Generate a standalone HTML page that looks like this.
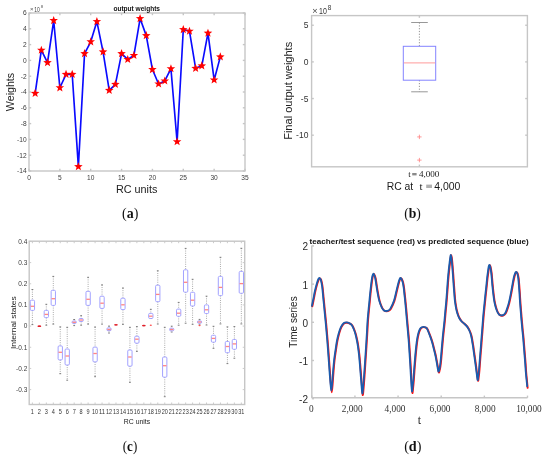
<!DOCTYPE html>
<html><head><meta charset="utf-8"><title>Figure</title>
<style>html,body{margin:0;padding:0;background:#fff;} svg{display:block;}</style></head>
<body><svg width="550" height="459" viewBox="0 0 550 459">
<rect width="550" height="459" fill="#fff"/>
<rect x="29.0" y="13.0" width="216.0" height="158.0" fill="none" stroke="#c6c6c6" stroke-width="1.4"/>
<line x1="29.00" y1="171.00" x2="29.00" y2="168.80" stroke="#c6c6c6" stroke-width="1.4"/>
<line x1="29.00" y1="13.00" x2="29.00" y2="15.20" stroke="#c6c6c6" stroke-width="1.4"/>
<text x="29.00" y="179.80" font-size="6.6" text-anchor="middle" font-family="'Liberation Sans', Arial, sans-serif" fill="#3a3a3a">0</text>
<line x1="59.86" y1="171.00" x2="59.86" y2="168.80" stroke="#c6c6c6" stroke-width="1.4"/>
<line x1="59.86" y1="13.00" x2="59.86" y2="15.20" stroke="#c6c6c6" stroke-width="1.4"/>
<text x="59.86" y="179.80" font-size="6.6" text-anchor="middle" font-family="'Liberation Sans', Arial, sans-serif" fill="#3a3a3a">5</text>
<line x1="90.71" y1="171.00" x2="90.71" y2="168.80" stroke="#c6c6c6" stroke-width="1.4"/>
<line x1="90.71" y1="13.00" x2="90.71" y2="15.20" stroke="#c6c6c6" stroke-width="1.4"/>
<text x="90.71" y="179.80" font-size="6.6" text-anchor="middle" font-family="'Liberation Sans', Arial, sans-serif" fill="#3a3a3a">10</text>
<line x1="121.57" y1="171.00" x2="121.57" y2="168.80" stroke="#c6c6c6" stroke-width="1.4"/>
<line x1="121.57" y1="13.00" x2="121.57" y2="15.20" stroke="#c6c6c6" stroke-width="1.4"/>
<text x="121.57" y="179.80" font-size="6.6" text-anchor="middle" font-family="'Liberation Sans', Arial, sans-serif" fill="#3a3a3a">15</text>
<line x1="152.43" y1="171.00" x2="152.43" y2="168.80" stroke="#c6c6c6" stroke-width="1.4"/>
<line x1="152.43" y1="13.00" x2="152.43" y2="15.20" stroke="#c6c6c6" stroke-width="1.4"/>
<text x="152.43" y="179.80" font-size="6.6" text-anchor="middle" font-family="'Liberation Sans', Arial, sans-serif" fill="#3a3a3a">20</text>
<line x1="183.29" y1="171.00" x2="183.29" y2="168.80" stroke="#c6c6c6" stroke-width="1.4"/>
<line x1="183.29" y1="13.00" x2="183.29" y2="15.20" stroke="#c6c6c6" stroke-width="1.4"/>
<text x="183.29" y="179.80" font-size="6.6" text-anchor="middle" font-family="'Liberation Sans', Arial, sans-serif" fill="#3a3a3a">25</text>
<line x1="214.14" y1="171.00" x2="214.14" y2="168.80" stroke="#c6c6c6" stroke-width="1.4"/>
<line x1="214.14" y1="13.00" x2="214.14" y2="15.20" stroke="#c6c6c6" stroke-width="1.4"/>
<text x="214.14" y="179.80" font-size="6.6" text-anchor="middle" font-family="'Liberation Sans', Arial, sans-serif" fill="#3a3a3a">30</text>
<line x1="245.00" y1="171.00" x2="245.00" y2="168.80" stroke="#c6c6c6" stroke-width="1.4"/>
<line x1="245.00" y1="13.00" x2="245.00" y2="15.20" stroke="#c6c6c6" stroke-width="1.4"/>
<text x="245.00" y="179.80" font-size="6.6" text-anchor="middle" font-family="'Liberation Sans', Arial, sans-serif" fill="#3a3a3a">35</text>
<line x1="29.00" y1="171.00" x2="31.20" y2="171.00" stroke="#c6c6c6" stroke-width="1.4"/>
<line x1="245.00" y1="171.00" x2="242.80" y2="171.00" stroke="#c6c6c6" stroke-width="1.4"/>
<text x="26.60" y="173.30" font-size="6.6" text-anchor="end" font-family="'Liberation Sans', Arial, sans-serif" fill="#3a3a3a">-14</text>
<line x1="29.00" y1="155.20" x2="31.20" y2="155.20" stroke="#c6c6c6" stroke-width="1.4"/>
<line x1="245.00" y1="155.20" x2="242.80" y2="155.20" stroke="#c6c6c6" stroke-width="1.4"/>
<text x="26.60" y="157.50" font-size="6.6" text-anchor="end" font-family="'Liberation Sans', Arial, sans-serif" fill="#3a3a3a">-12</text>
<line x1="29.00" y1="139.40" x2="31.20" y2="139.40" stroke="#c6c6c6" stroke-width="1.4"/>
<line x1="245.00" y1="139.40" x2="242.80" y2="139.40" stroke="#c6c6c6" stroke-width="1.4"/>
<text x="26.60" y="141.70" font-size="6.6" text-anchor="end" font-family="'Liberation Sans', Arial, sans-serif" fill="#3a3a3a">-10</text>
<line x1="29.00" y1="123.60" x2="31.20" y2="123.60" stroke="#c6c6c6" stroke-width="1.4"/>
<line x1="245.00" y1="123.60" x2="242.80" y2="123.60" stroke="#c6c6c6" stroke-width="1.4"/>
<text x="26.60" y="125.90" font-size="6.6" text-anchor="end" font-family="'Liberation Sans', Arial, sans-serif" fill="#3a3a3a">-8</text>
<line x1="29.00" y1="107.80" x2="31.20" y2="107.80" stroke="#c6c6c6" stroke-width="1.4"/>
<line x1="245.00" y1="107.80" x2="242.80" y2="107.80" stroke="#c6c6c6" stroke-width="1.4"/>
<text x="26.60" y="110.10" font-size="6.6" text-anchor="end" font-family="'Liberation Sans', Arial, sans-serif" fill="#3a3a3a">-6</text>
<line x1="29.00" y1="92.00" x2="31.20" y2="92.00" stroke="#c6c6c6" stroke-width="1.4"/>
<line x1="245.00" y1="92.00" x2="242.80" y2="92.00" stroke="#c6c6c6" stroke-width="1.4"/>
<text x="26.60" y="94.30" font-size="6.6" text-anchor="end" font-family="'Liberation Sans', Arial, sans-serif" fill="#3a3a3a">-4</text>
<line x1="29.00" y1="76.20" x2="31.20" y2="76.20" stroke="#c6c6c6" stroke-width="1.4"/>
<line x1="245.00" y1="76.20" x2="242.80" y2="76.20" stroke="#c6c6c6" stroke-width="1.4"/>
<text x="26.60" y="78.50" font-size="6.6" text-anchor="end" font-family="'Liberation Sans', Arial, sans-serif" fill="#3a3a3a">-2</text>
<line x1="29.00" y1="60.40" x2="31.20" y2="60.40" stroke="#c6c6c6" stroke-width="1.4"/>
<line x1="245.00" y1="60.40" x2="242.80" y2="60.40" stroke="#c6c6c6" stroke-width="1.4"/>
<text x="26.60" y="62.70" font-size="6.6" text-anchor="end" font-family="'Liberation Sans', Arial, sans-serif" fill="#3a3a3a">0</text>
<line x1="29.00" y1="44.60" x2="31.20" y2="44.60" stroke="#c6c6c6" stroke-width="1.4"/>
<line x1="245.00" y1="44.60" x2="242.80" y2="44.60" stroke="#c6c6c6" stroke-width="1.4"/>
<text x="26.60" y="46.90" font-size="6.6" text-anchor="end" font-family="'Liberation Sans', Arial, sans-serif" fill="#3a3a3a">2</text>
<line x1="29.00" y1="28.80" x2="31.20" y2="28.80" stroke="#c6c6c6" stroke-width="1.4"/>
<line x1="245.00" y1="28.80" x2="242.80" y2="28.80" stroke="#c6c6c6" stroke-width="1.4"/>
<text x="26.60" y="31.10" font-size="6.6" text-anchor="end" font-family="'Liberation Sans', Arial, sans-serif" fill="#3a3a3a">4</text>
<line x1="29.00" y1="13.00" x2="31.20" y2="13.00" stroke="#c6c6c6" stroke-width="1.4"/>
<line x1="245.00" y1="13.00" x2="242.80" y2="13.00" stroke="#c6c6c6" stroke-width="1.4"/>
<text x="26.60" y="15.30" font-size="6.6" text-anchor="end" font-family="'Liberation Sans', Arial, sans-serif" fill="#3a3a3a">6</text>
<text x="30.00" y="11.40" font-size="6.0" text-anchor="start" font-family="'Liberation Sans', Arial, sans-serif" fill="#555">×</text>
<text x="34.20" y="11.60" font-size="7.0" text-anchor="start" font-family="'Liberation Sans', Arial, sans-serif" fill="#444" textLength="5.6" lengthAdjust="spacingAndGlyphs">10</text>
<text x="40.70" y="8.20" font-size="4.4" text-anchor="start" font-family="'Liberation Sans', Arial, sans-serif" fill="#555">8</text>
<text x="136.70" y="11.00" font-size="6.5" text-anchor="middle" font-family="'Liberation Sans', Arial, sans-serif" fill="#111" font-weight="bold" textLength="46.6" lengthAdjust="spacingAndGlyphs">output weights</text>
<text x="136.70" y="193.40" font-size="11.2" text-anchor="middle" font-family="'Liberation Sans', Arial, sans-serif" fill="#222" textLength="41.5" lengthAdjust="spacingAndGlyphs">RC units</text>
<text x="14.00" y="92.00" font-size="11" text-anchor="middle" font-family="'Liberation Sans', Arial, sans-serif" fill="#222" textLength="38.3" lengthAdjust="spacingAndGlyphs" transform="rotate(-90 14.00 92.00)">Weights</text>
<text x="130.20" y="217.80" font-size="14" text-anchor="middle" font-family="'Liberation Serif', 'Times New Roman', serif" fill="#111" textLength="16.3" lengthAdjust="spacingAndGlyphs">(<tspan font-weight="bold">a</tspan>)</text>
<path d="M35.17,93.35 L41.34,50.21 L47.51,62.62 L53.69,20.51 L59.86,87.74 L66.03,74.31 L72.20,74.31 L78.37,166.66 L84.54,53.61 L90.71,41.76 L96.89,21.54 L103.06,51.79 L109.23,90.35 L115.40,84.34 L121.57,53.61 L127.74,59.46 L133.91,55.43 L140.09,18.54 L146.26,35.60 L152.43,69.49 L158.60,83.95 L164.77,80.95 L170.94,68.70 L177.11,141.70 L183.29,29.52 L189.46,31.17 L195.63,68.31 L201.80,65.86 L207.97,33.15 L214.14,79.92 L220.31,56.85" fill="none" stroke="#0a0aff" stroke-width="1.65" stroke-linejoin="round"/>
<polygon points="35.17,88.85 36.29,91.81 39.45,91.96 36.98,93.94 37.82,96.99 35.17,95.25 32.53,96.99 33.36,93.94 30.89,91.96 34.05,91.81" fill="#ff0000"/>
<polygon points="41.34,45.71 42.46,48.68 45.62,48.82 43.15,50.80 43.99,53.85 41.34,52.11 38.70,53.85 39.54,50.80 37.06,48.82 40.23,48.68" fill="#ff0000"/>
<polygon points="47.51,58.12 48.63,61.08 51.79,61.23 49.32,63.20 50.16,66.26 47.51,64.52 44.87,66.26 45.71,63.20 43.23,61.23 46.40,61.08" fill="#ff0000"/>
<polygon points="53.69,16.01 54.80,18.97 57.97,19.12 55.49,21.10 56.33,24.15 53.69,22.41 51.04,24.15 51.88,21.10 49.41,19.12 52.57,18.97" fill="#ff0000"/>
<polygon points="59.86,83.24 60.97,86.20 64.14,86.35 61.66,88.33 62.50,91.38 59.86,89.64 57.21,91.38 58.05,88.33 55.58,86.35 58.74,86.20" fill="#ff0000"/>
<polygon points="66.03,69.81 67.15,72.77 70.31,72.92 67.84,74.90 68.67,77.95 66.03,76.21 63.38,77.95 64.22,74.90 61.75,72.92 64.91,72.77" fill="#ff0000"/>
<polygon points="72.20,69.81 73.32,72.77 76.48,72.92 74.01,74.90 74.85,77.95 72.20,76.21 69.55,77.95 70.39,74.90 67.92,72.92 71.08,72.77" fill="#ff0000"/>
<polygon points="78.37,162.16 79.49,165.12 82.65,165.27 80.18,167.25 81.02,170.30 78.37,168.56 75.73,170.30 76.56,167.25 74.09,165.27 77.25,165.12" fill="#ff0000"/>
<polygon points="84.54,49.11 85.66,52.07 88.82,52.22 86.35,54.20 87.19,57.25 84.54,55.51 81.90,57.25 82.74,54.20 80.26,52.22 83.43,52.07" fill="#ff0000"/>
<polygon points="90.71,37.26 91.83,40.22 94.99,40.37 92.52,42.35 93.36,45.40 90.71,43.66 88.07,45.40 88.91,42.35 86.43,40.37 89.60,40.22" fill="#ff0000"/>
<polygon points="96.89,17.04 98.00,20.00 101.17,20.15 98.69,22.12 99.53,25.18 96.89,23.44 94.24,25.18 95.08,22.12 92.61,20.15 95.77,20.00" fill="#ff0000"/>
<polygon points="103.06,47.29 104.17,50.26 107.34,50.40 104.86,52.38 105.70,55.43 103.06,53.69 100.41,55.43 101.25,52.38 98.78,50.40 101.94,50.26" fill="#ff0000"/>
<polygon points="109.23,85.85 110.35,88.81 113.51,88.96 111.04,90.93 111.87,93.99 109.23,92.25 106.58,93.99 107.42,90.93 104.95,88.96 108.11,88.81" fill="#ff0000"/>
<polygon points="115.40,79.84 116.52,82.80 119.68,82.95 117.21,84.93 118.05,87.98 115.40,86.24 112.75,87.98 113.59,84.93 111.12,82.95 114.28,82.80" fill="#ff0000"/>
<polygon points="121.57,49.11 122.69,52.07 125.85,52.22 123.38,54.20 124.22,57.25 121.57,55.51 118.93,57.25 119.76,54.20 117.29,52.22 120.45,52.07" fill="#ff0000"/>
<polygon points="127.74,54.96 128.86,57.92 132.02,58.07 129.55,60.04 130.39,63.10 127.74,61.36 125.10,63.10 125.94,60.04 123.46,58.07 126.63,57.92" fill="#ff0000"/>
<polygon points="133.91,50.93 135.03,53.89 138.19,54.04 135.72,56.02 136.56,59.07 133.91,57.33 131.27,59.07 132.11,56.02 129.63,54.04 132.80,53.89" fill="#ff0000"/>
<polygon points="140.09,14.04 141.20,17.00 144.37,17.14 141.89,19.12 142.73,22.18 140.09,20.44 137.44,22.18 138.28,19.12 135.81,17.14 138.97,17.00" fill="#ff0000"/>
<polygon points="146.26,31.10 147.37,34.06 150.54,34.21 148.06,36.19 148.90,39.24 146.26,37.50 143.61,39.24 144.45,36.19 141.98,34.21 145.14,34.06" fill="#ff0000"/>
<polygon points="152.43,64.99 153.55,67.95 156.71,68.10 154.24,70.08 155.07,73.13 152.43,71.39 149.78,73.13 150.62,70.08 148.15,68.10 151.31,67.95" fill="#ff0000"/>
<polygon points="158.60,79.45 159.72,82.41 162.88,82.56 160.41,84.53 161.25,87.59 158.60,85.85 155.95,87.59 156.79,84.53 154.32,82.56 157.48,82.41" fill="#ff0000"/>
<polygon points="164.77,76.45 165.89,79.41 169.05,79.55 166.58,81.53 167.42,84.59 164.77,82.85 162.13,84.59 162.96,81.53 160.49,79.55 163.65,79.41" fill="#ff0000"/>
<polygon points="170.94,64.20 172.06,67.16 175.22,67.31 172.75,69.29 173.59,72.34 170.94,70.60 168.30,72.34 169.14,69.29 166.66,67.31 169.83,67.16" fill="#ff0000"/>
<polygon points="177.11,137.20 178.23,140.16 181.39,140.31 178.92,142.28 179.76,145.34 177.11,143.60 174.47,145.34 175.31,142.28 172.83,140.31 176.00,140.16" fill="#ff0000"/>
<polygon points="183.29,25.02 184.40,27.98 187.57,28.13 185.09,30.10 185.93,33.16 183.29,31.42 180.64,33.16 181.48,30.10 179.01,28.13 182.17,27.98" fill="#ff0000"/>
<polygon points="189.46,26.67 190.57,29.64 193.74,29.78 191.26,31.76 192.10,34.82 189.46,33.07 186.81,34.82 187.65,31.76 185.18,29.78 188.34,29.64" fill="#ff0000"/>
<polygon points="195.63,63.81 196.75,66.77 199.91,66.91 197.44,68.89 198.27,71.95 195.63,70.21 192.98,71.95 193.82,68.89 191.35,66.91 194.51,66.77" fill="#ff0000"/>
<polygon points="201.80,61.36 202.92,64.32 206.08,64.47 203.61,66.44 204.45,69.50 201.80,67.76 199.15,69.50 199.99,66.44 197.52,64.47 200.68,64.32" fill="#ff0000"/>
<polygon points="207.97,28.65 209.09,31.61 212.25,31.76 209.78,33.74 210.62,36.79 207.97,35.05 205.33,36.79 206.16,33.74 203.69,31.76 206.85,31.61" fill="#ff0000"/>
<polygon points="214.14,75.42 215.26,78.38 218.42,78.53 215.95,80.51 216.79,83.56 214.14,81.82 211.50,83.56 212.34,80.51 209.86,78.53 213.03,78.38" fill="#ff0000"/>
<polygon points="220.31,52.35 221.43,55.31 224.59,55.46 222.12,57.44 222.96,60.49 220.31,58.75 217.67,60.49 218.51,57.44 216.03,55.46 219.20,55.31" fill="#ff0000"/>
<rect x="311.6" y="15.6" width="215.79999999999995" height="151.20000000000002" fill="none" stroke="#c6c6c6" stroke-width="1.4"/>
<line x1="311.60" y1="25.25" x2="313.80" y2="25.25" stroke="#c6c6c6" stroke-width="1.4"/>
<line x1="527.40" y1="25.25" x2="525.20" y2="25.25" stroke="#c6c6c6" stroke-width="1.4"/>
<text x="308.40" y="28.25" font-size="8.5" text-anchor="end" font-family="'Liberation Sans', Arial, sans-serif" fill="#333">5</text>
<line x1="311.60" y1="61.90" x2="313.80" y2="61.90" stroke="#c6c6c6" stroke-width="1.4"/>
<line x1="527.40" y1="61.90" x2="525.20" y2="61.90" stroke="#c6c6c6" stroke-width="1.4"/>
<text x="308.40" y="64.90" font-size="8.5" text-anchor="end" font-family="'Liberation Sans', Arial, sans-serif" fill="#333">0</text>
<line x1="311.60" y1="98.55" x2="313.80" y2="98.55" stroke="#c6c6c6" stroke-width="1.4"/>
<line x1="527.40" y1="98.55" x2="525.20" y2="98.55" stroke="#c6c6c6" stroke-width="1.4"/>
<text x="308.40" y="101.55" font-size="8.5" text-anchor="end" font-family="'Liberation Sans', Arial, sans-serif" fill="#333">-5</text>
<line x1="311.60" y1="135.20" x2="313.80" y2="135.20" stroke="#c6c6c6" stroke-width="1.4"/>
<line x1="527.40" y1="135.20" x2="525.20" y2="135.20" stroke="#c6c6c6" stroke-width="1.4"/>
<text x="308.40" y="138.20" font-size="8.5" text-anchor="end" font-family="'Liberation Sans', Arial, sans-serif" fill="#333">-10</text>
<line x1="419.40" y1="166.80" x2="419.40" y2="164.60" stroke="#c6c6c6" stroke-width="1.4"/>
<line x1="419.40" y1="15.60" x2="419.40" y2="17.80" stroke="#c6c6c6" stroke-width="1.4"/>
<text x="312.30" y="14.00" font-size="9.2" text-anchor="start" font-family="'Liberation Sans', Arial, sans-serif" fill="#444">×</text>
<text x="319.00" y="13.80" font-size="8.2" text-anchor="start" font-family="'Liberation Sans', Arial, sans-serif" fill="#333" textLength="7.8" lengthAdjust="spacingAndGlyphs">10</text>
<text x="327.70" y="9.50" font-size="6.4" text-anchor="start" font-family="'Liberation Sans', Arial, sans-serif" fill="#333">8</text>
<line x1="419.40" y1="22.50" x2="419.40" y2="46.30" stroke="#888" stroke-width="0.9" stroke-dasharray="1.2,1.6"/>
<line x1="419.40" y1="80.20" x2="419.40" y2="91.80" stroke="#888" stroke-width="0.9" stroke-dasharray="1.2,1.6"/>
<line x1="411.20" y1="22.50" x2="427.80" y2="22.50" stroke="#8c8c8c" stroke-width="0.9"/>
<line x1="411.20" y1="91.80" x2="427.80" y2="91.80" stroke="#8c8c8c" stroke-width="0.9"/>
<rect x="403.3" y="46.3" width="32.4" height="33.9" fill="none" stroke="#8484ff" stroke-width="1.0"/>
<line x1="403.80" y1="62.90" x2="435.20" y2="62.90" stroke="#ff9090" stroke-width="0.9"/>
<line x1="417.20" y1="136.90" x2="421.60" y2="136.90" stroke="#ff8080" stroke-width="0.8"/>
<line x1="419.40" y1="134.70" x2="419.40" y2="139.10" stroke="#ff8080" stroke-width="0.8"/>
<line x1="417.20" y1="160.10" x2="421.60" y2="160.10" stroke="#ff8080" stroke-width="0.8"/>
<line x1="419.40" y1="157.90" x2="419.40" y2="162.30" stroke="#ff8080" stroke-width="0.8"/>
<text x="291.60" y="90.80" font-size="11" text-anchor="middle" font-family="'Liberation Sans', Arial, sans-serif" fill="#222" textLength="98" lengthAdjust="spacingAndGlyphs" transform="rotate(-90 291.60 90.80)">Final output weights</text>
<text x="408.3" y="176.9" font-size="8.8" font-family="'Liberation Serif', 'Times New Roman', serif" fill="#222">t</text>
<rect x="412.2" y="173.0" width="4.4" height="2.4" fill="#8a8a8a"/>
<text x="418.9" y="176.9" font-size="8.8" font-family="'Liberation Serif', 'Times New Roman', serif" fill="#222" textLength="20.5" lengthAdjust="spacingAndGlyphs">4,000</text>
<text x="386.7" y="190.4" font-size="11" font-family="'Liberation Sans', Arial, sans-serif" fill="#1a1a1a" textLength="26.5" lengthAdjust="spacingAndGlyphs">RC at</text>
<text x="419.4" y="190.4" font-size="11" font-family="'Liberation Serif', 'Times New Roman', serif" fill="#1a1a1a">t</text>
<rect x="426.2" y="184.6" width="5.8" height="3.4" fill="#b0b0b0"/>
<text x="434.2" y="190.4" font-size="11" font-family="'Liberation Sans', Arial, sans-serif" fill="#1a1a1a" textLength="26.2" lengthAdjust="spacingAndGlyphs">4,000</text>
<text x="412.50" y="217.80" font-size="14" text-anchor="middle" font-family="'Liberation Serif', 'Times New Roman', serif" fill="#111" textLength="16.7" lengthAdjust="spacingAndGlyphs">(<tspan font-weight="bold">b</tspan>)</text>
<rect x="29.2" y="241.2" width="215.5" height="163.3" fill="none" stroke="#c6c6c6" stroke-width="1.4"/>
<line x1="32.40" y1="404.50" x2="32.40" y2="402.50" stroke="#c6c6c6" stroke-width="0.9"/>
<line x1="32.40" y1="241.20" x2="32.40" y2="243.20" stroke="#c6c6c6" stroke-width="0.9"/>
<text x="32.40" y="414.00" font-size="7.6" text-anchor="middle" font-family="'Liberation Sans', Arial, sans-serif" fill="#333" textLength="3.1" lengthAdjust="spacingAndGlyphs">1</text>
<line x1="39.36" y1="404.50" x2="39.36" y2="402.50" stroke="#c6c6c6" stroke-width="0.9"/>
<line x1="39.36" y1="241.20" x2="39.36" y2="243.20" stroke="#c6c6c6" stroke-width="0.9"/>
<text x="39.36" y="414.00" font-size="7.6" text-anchor="middle" font-family="'Liberation Sans', Arial, sans-serif" fill="#333" textLength="3.1" lengthAdjust="spacingAndGlyphs">2</text>
<line x1="46.33" y1="404.50" x2="46.33" y2="402.50" stroke="#c6c6c6" stroke-width="0.9"/>
<line x1="46.33" y1="241.20" x2="46.33" y2="243.20" stroke="#c6c6c6" stroke-width="0.9"/>
<text x="46.33" y="414.00" font-size="7.6" text-anchor="middle" font-family="'Liberation Sans', Arial, sans-serif" fill="#333" textLength="3.1" lengthAdjust="spacingAndGlyphs">3</text>
<line x1="53.30" y1="404.50" x2="53.30" y2="402.50" stroke="#c6c6c6" stroke-width="0.9"/>
<line x1="53.30" y1="241.20" x2="53.30" y2="243.20" stroke="#c6c6c6" stroke-width="0.9"/>
<text x="53.30" y="414.00" font-size="7.6" text-anchor="middle" font-family="'Liberation Sans', Arial, sans-serif" fill="#333" textLength="3.1" lengthAdjust="spacingAndGlyphs">4</text>
<line x1="60.26" y1="404.50" x2="60.26" y2="402.50" stroke="#c6c6c6" stroke-width="0.9"/>
<line x1="60.26" y1="241.20" x2="60.26" y2="243.20" stroke="#c6c6c6" stroke-width="0.9"/>
<text x="60.26" y="414.00" font-size="7.6" text-anchor="middle" font-family="'Liberation Sans', Arial, sans-serif" fill="#333" textLength="3.1" lengthAdjust="spacingAndGlyphs">5</text>
<line x1="67.22" y1="404.50" x2="67.22" y2="402.50" stroke="#c6c6c6" stroke-width="0.9"/>
<line x1="67.22" y1="241.20" x2="67.22" y2="243.20" stroke="#c6c6c6" stroke-width="0.9"/>
<text x="67.22" y="414.00" font-size="7.6" text-anchor="middle" font-family="'Liberation Sans', Arial, sans-serif" fill="#333" textLength="3.1" lengthAdjust="spacingAndGlyphs">6</text>
<line x1="74.19" y1="404.50" x2="74.19" y2="402.50" stroke="#c6c6c6" stroke-width="0.9"/>
<line x1="74.19" y1="241.20" x2="74.19" y2="243.20" stroke="#c6c6c6" stroke-width="0.9"/>
<text x="74.19" y="414.00" font-size="7.6" text-anchor="middle" font-family="'Liberation Sans', Arial, sans-serif" fill="#333" textLength="3.1" lengthAdjust="spacingAndGlyphs">7</text>
<line x1="81.16" y1="404.50" x2="81.16" y2="402.50" stroke="#c6c6c6" stroke-width="0.9"/>
<line x1="81.16" y1="241.20" x2="81.16" y2="243.20" stroke="#c6c6c6" stroke-width="0.9"/>
<text x="81.16" y="414.00" font-size="7.6" text-anchor="middle" font-family="'Liberation Sans', Arial, sans-serif" fill="#333" textLength="3.1" lengthAdjust="spacingAndGlyphs">8</text>
<line x1="88.12" y1="404.50" x2="88.12" y2="402.50" stroke="#c6c6c6" stroke-width="0.9"/>
<line x1="88.12" y1="241.20" x2="88.12" y2="243.20" stroke="#c6c6c6" stroke-width="0.9"/>
<text x="88.12" y="414.00" font-size="7.6" text-anchor="middle" font-family="'Liberation Sans', Arial, sans-serif" fill="#333" textLength="3.1" lengthAdjust="spacingAndGlyphs">9</text>
<line x1="95.09" y1="404.50" x2="95.09" y2="402.50" stroke="#c6c6c6" stroke-width="0.9"/>
<line x1="95.09" y1="241.20" x2="95.09" y2="243.20" stroke="#c6c6c6" stroke-width="0.9"/>
<text x="95.09" y="414.00" font-size="7.6" text-anchor="middle" font-family="'Liberation Sans', Arial, sans-serif" fill="#333" textLength="6.1" lengthAdjust="spacingAndGlyphs">10</text>
<line x1="102.05" y1="404.50" x2="102.05" y2="402.50" stroke="#c6c6c6" stroke-width="0.9"/>
<line x1="102.05" y1="241.20" x2="102.05" y2="243.20" stroke="#c6c6c6" stroke-width="0.9"/>
<text x="102.05" y="414.00" font-size="7.6" text-anchor="middle" font-family="'Liberation Sans', Arial, sans-serif" fill="#333" textLength="6.1" lengthAdjust="spacingAndGlyphs">11</text>
<line x1="109.01" y1="404.50" x2="109.01" y2="402.50" stroke="#c6c6c6" stroke-width="0.9"/>
<line x1="109.01" y1="241.20" x2="109.01" y2="243.20" stroke="#c6c6c6" stroke-width="0.9"/>
<text x="109.01" y="414.00" font-size="7.6" text-anchor="middle" font-family="'Liberation Sans', Arial, sans-serif" fill="#333" textLength="6.1" lengthAdjust="spacingAndGlyphs">12</text>
<line x1="115.98" y1="404.50" x2="115.98" y2="402.50" stroke="#c6c6c6" stroke-width="0.9"/>
<line x1="115.98" y1="241.20" x2="115.98" y2="243.20" stroke="#c6c6c6" stroke-width="0.9"/>
<text x="115.98" y="414.00" font-size="7.6" text-anchor="middle" font-family="'Liberation Sans', Arial, sans-serif" fill="#333" textLength="6.1" lengthAdjust="spacingAndGlyphs">13</text>
<line x1="122.94" y1="404.50" x2="122.94" y2="402.50" stroke="#c6c6c6" stroke-width="0.9"/>
<line x1="122.94" y1="241.20" x2="122.94" y2="243.20" stroke="#c6c6c6" stroke-width="0.9"/>
<text x="122.94" y="414.00" font-size="7.6" text-anchor="middle" font-family="'Liberation Sans', Arial, sans-serif" fill="#333" textLength="6.1" lengthAdjust="spacingAndGlyphs">14</text>
<line x1="129.91" y1="404.50" x2="129.91" y2="402.50" stroke="#c6c6c6" stroke-width="0.9"/>
<line x1="129.91" y1="241.20" x2="129.91" y2="243.20" stroke="#c6c6c6" stroke-width="0.9"/>
<text x="129.91" y="414.00" font-size="7.6" text-anchor="middle" font-family="'Liberation Sans', Arial, sans-serif" fill="#333" textLength="6.1" lengthAdjust="spacingAndGlyphs">15</text>
<line x1="136.88" y1="404.50" x2="136.88" y2="402.50" stroke="#c6c6c6" stroke-width="0.9"/>
<line x1="136.88" y1="241.20" x2="136.88" y2="243.20" stroke="#c6c6c6" stroke-width="0.9"/>
<text x="136.88" y="414.00" font-size="7.6" text-anchor="middle" font-family="'Liberation Sans', Arial, sans-serif" fill="#333" textLength="6.1" lengthAdjust="spacingAndGlyphs">16</text>
<line x1="143.84" y1="404.50" x2="143.84" y2="402.50" stroke="#c6c6c6" stroke-width="0.9"/>
<line x1="143.84" y1="241.20" x2="143.84" y2="243.20" stroke="#c6c6c6" stroke-width="0.9"/>
<text x="143.84" y="414.00" font-size="7.6" text-anchor="middle" font-family="'Liberation Sans', Arial, sans-serif" fill="#333" textLength="6.1" lengthAdjust="spacingAndGlyphs">17</text>
<line x1="150.81" y1="404.50" x2="150.81" y2="402.50" stroke="#c6c6c6" stroke-width="0.9"/>
<line x1="150.81" y1="241.20" x2="150.81" y2="243.20" stroke="#c6c6c6" stroke-width="0.9"/>
<text x="150.81" y="414.00" font-size="7.6" text-anchor="middle" font-family="'Liberation Sans', Arial, sans-serif" fill="#333" textLength="6.1" lengthAdjust="spacingAndGlyphs">18</text>
<line x1="157.77" y1="404.50" x2="157.77" y2="402.50" stroke="#c6c6c6" stroke-width="0.9"/>
<line x1="157.77" y1="241.20" x2="157.77" y2="243.20" stroke="#c6c6c6" stroke-width="0.9"/>
<text x="157.77" y="414.00" font-size="7.6" text-anchor="middle" font-family="'Liberation Sans', Arial, sans-serif" fill="#333" textLength="6.1" lengthAdjust="spacingAndGlyphs">19</text>
<line x1="164.74" y1="404.50" x2="164.74" y2="402.50" stroke="#c6c6c6" stroke-width="0.9"/>
<line x1="164.74" y1="241.20" x2="164.74" y2="243.20" stroke="#c6c6c6" stroke-width="0.9"/>
<text x="164.74" y="414.00" font-size="7.6" text-anchor="middle" font-family="'Liberation Sans', Arial, sans-serif" fill="#333" textLength="6.1" lengthAdjust="spacingAndGlyphs">20</text>
<line x1="171.70" y1="404.50" x2="171.70" y2="402.50" stroke="#c6c6c6" stroke-width="0.9"/>
<line x1="171.70" y1="241.20" x2="171.70" y2="243.20" stroke="#c6c6c6" stroke-width="0.9"/>
<text x="171.70" y="414.00" font-size="7.6" text-anchor="middle" font-family="'Liberation Sans', Arial, sans-serif" fill="#333" textLength="6.1" lengthAdjust="spacingAndGlyphs">21</text>
<line x1="178.66" y1="404.50" x2="178.66" y2="402.50" stroke="#c6c6c6" stroke-width="0.9"/>
<line x1="178.66" y1="241.20" x2="178.66" y2="243.20" stroke="#c6c6c6" stroke-width="0.9"/>
<text x="178.66" y="414.00" font-size="7.6" text-anchor="middle" font-family="'Liberation Sans', Arial, sans-serif" fill="#333" textLength="6.1" lengthAdjust="spacingAndGlyphs">22</text>
<line x1="185.63" y1="404.50" x2="185.63" y2="402.50" stroke="#c6c6c6" stroke-width="0.9"/>
<line x1="185.63" y1="241.20" x2="185.63" y2="243.20" stroke="#c6c6c6" stroke-width="0.9"/>
<text x="185.63" y="414.00" font-size="7.6" text-anchor="middle" font-family="'Liberation Sans', Arial, sans-serif" fill="#333" textLength="6.1" lengthAdjust="spacingAndGlyphs">23</text>
<line x1="192.59" y1="404.50" x2="192.59" y2="402.50" stroke="#c6c6c6" stroke-width="0.9"/>
<line x1="192.59" y1="241.20" x2="192.59" y2="243.20" stroke="#c6c6c6" stroke-width="0.9"/>
<text x="192.59" y="414.00" font-size="7.6" text-anchor="middle" font-family="'Liberation Sans', Arial, sans-serif" fill="#333" textLength="6.1" lengthAdjust="spacingAndGlyphs">24</text>
<line x1="199.56" y1="404.50" x2="199.56" y2="402.50" stroke="#c6c6c6" stroke-width="0.9"/>
<line x1="199.56" y1="241.20" x2="199.56" y2="243.20" stroke="#c6c6c6" stroke-width="0.9"/>
<text x="199.56" y="414.00" font-size="7.6" text-anchor="middle" font-family="'Liberation Sans', Arial, sans-serif" fill="#333" textLength="6.1" lengthAdjust="spacingAndGlyphs">25</text>
<line x1="206.53" y1="404.50" x2="206.53" y2="402.50" stroke="#c6c6c6" stroke-width="0.9"/>
<line x1="206.53" y1="241.20" x2="206.53" y2="243.20" stroke="#c6c6c6" stroke-width="0.9"/>
<text x="206.53" y="414.00" font-size="7.6" text-anchor="middle" font-family="'Liberation Sans', Arial, sans-serif" fill="#333" textLength="6.1" lengthAdjust="spacingAndGlyphs">26</text>
<line x1="213.49" y1="404.50" x2="213.49" y2="402.50" stroke="#c6c6c6" stroke-width="0.9"/>
<line x1="213.49" y1="241.20" x2="213.49" y2="243.20" stroke="#c6c6c6" stroke-width="0.9"/>
<text x="213.49" y="414.00" font-size="7.6" text-anchor="middle" font-family="'Liberation Sans', Arial, sans-serif" fill="#333" textLength="6.1" lengthAdjust="spacingAndGlyphs">27</text>
<line x1="220.46" y1="404.50" x2="220.46" y2="402.50" stroke="#c6c6c6" stroke-width="0.9"/>
<line x1="220.46" y1="241.20" x2="220.46" y2="243.20" stroke="#c6c6c6" stroke-width="0.9"/>
<text x="220.46" y="414.00" font-size="7.6" text-anchor="middle" font-family="'Liberation Sans', Arial, sans-serif" fill="#333" textLength="6.1" lengthAdjust="spacingAndGlyphs">28</text>
<line x1="227.42" y1="404.50" x2="227.42" y2="402.50" stroke="#c6c6c6" stroke-width="0.9"/>
<line x1="227.42" y1="241.20" x2="227.42" y2="243.20" stroke="#c6c6c6" stroke-width="0.9"/>
<text x="227.42" y="414.00" font-size="7.6" text-anchor="middle" font-family="'Liberation Sans', Arial, sans-serif" fill="#333" textLength="6.1" lengthAdjust="spacingAndGlyphs">29</text>
<line x1="234.38" y1="404.50" x2="234.38" y2="402.50" stroke="#c6c6c6" stroke-width="0.9"/>
<line x1="234.38" y1="241.20" x2="234.38" y2="243.20" stroke="#c6c6c6" stroke-width="0.9"/>
<text x="234.38" y="414.00" font-size="7.6" text-anchor="middle" font-family="'Liberation Sans', Arial, sans-serif" fill="#333" textLength="6.1" lengthAdjust="spacingAndGlyphs">30</text>
<line x1="241.35" y1="404.50" x2="241.35" y2="402.50" stroke="#c6c6c6" stroke-width="0.9"/>
<line x1="241.35" y1="241.20" x2="241.35" y2="243.20" stroke="#c6c6c6" stroke-width="0.9"/>
<text x="241.35" y="414.00" font-size="7.6" text-anchor="middle" font-family="'Liberation Sans', Arial, sans-serif" fill="#333" textLength="6.1" lengthAdjust="spacingAndGlyphs">31</text>
<line x1="29.20" y1="389.61" x2="31.20" y2="389.61" stroke="#c6c6c6" stroke-width="0.9"/>
<line x1="244.70" y1="389.61" x2="242.70" y2="389.61" stroke="#c6c6c6" stroke-width="0.9"/>
<text x="27.30" y="391.91" font-size="6.5" text-anchor="end" font-family="'Liberation Sans', Arial, sans-serif" fill="#3a3a3a">-0.3</text>
<line x1="29.20" y1="368.44" x2="31.20" y2="368.44" stroke="#c6c6c6" stroke-width="0.9"/>
<line x1="244.70" y1="368.44" x2="242.70" y2="368.44" stroke="#c6c6c6" stroke-width="0.9"/>
<text x="27.30" y="370.74" font-size="6.5" text-anchor="end" font-family="'Liberation Sans', Arial, sans-serif" fill="#3a3a3a">-0.2</text>
<line x1="29.20" y1="347.27" x2="31.20" y2="347.27" stroke="#c6c6c6" stroke-width="0.9"/>
<line x1="244.70" y1="347.27" x2="242.70" y2="347.27" stroke="#c6c6c6" stroke-width="0.9"/>
<text x="27.30" y="349.57" font-size="6.5" text-anchor="end" font-family="'Liberation Sans', Arial, sans-serif" fill="#3a3a3a">-0.1</text>
<line x1="29.20" y1="326.10" x2="31.20" y2="326.10" stroke="#c6c6c6" stroke-width="0.9"/>
<line x1="244.70" y1="326.10" x2="242.70" y2="326.10" stroke="#c6c6c6" stroke-width="0.9"/>
<text x="27.30" y="328.40" font-size="6.5" text-anchor="end" font-family="'Liberation Sans', Arial, sans-serif" fill="#3a3a3a">0</text>
<line x1="29.20" y1="304.93" x2="31.20" y2="304.93" stroke="#c6c6c6" stroke-width="0.9"/>
<line x1="244.70" y1="304.93" x2="242.70" y2="304.93" stroke="#c6c6c6" stroke-width="0.9"/>
<text x="27.30" y="307.23" font-size="6.5" text-anchor="end" font-family="'Liberation Sans', Arial, sans-serif" fill="#3a3a3a">0.1</text>
<line x1="29.20" y1="283.76" x2="31.20" y2="283.76" stroke="#c6c6c6" stroke-width="0.9"/>
<line x1="244.70" y1="283.76" x2="242.70" y2="283.76" stroke="#c6c6c6" stroke-width="0.9"/>
<text x="27.30" y="286.06" font-size="6.5" text-anchor="end" font-family="'Liberation Sans', Arial, sans-serif" fill="#3a3a3a">0.2</text>
<line x1="29.20" y1="262.59" x2="31.20" y2="262.59" stroke="#c6c6c6" stroke-width="0.9"/>
<line x1="244.70" y1="262.59" x2="242.70" y2="262.59" stroke="#c6c6c6" stroke-width="0.9"/>
<text x="27.30" y="264.89" font-size="6.5" text-anchor="end" font-family="'Liberation Sans', Arial, sans-serif" fill="#3a3a3a">0.3</text>
<line x1="29.20" y1="241.42" x2="31.20" y2="241.42" stroke="#c6c6c6" stroke-width="0.9"/>
<line x1="244.70" y1="241.42" x2="242.70" y2="241.42" stroke="#c6c6c6" stroke-width="0.9"/>
<text x="27.30" y="243.72" font-size="6.5" text-anchor="end" font-family="'Liberation Sans', Arial, sans-serif" fill="#3a3a3a">0.4</text>
<text x="0" y="0" font-size="8.6" text-anchor="middle" font-family="'Liberation Sans', Arial, sans-serif" fill="#222" textLength="52.8" lengthAdjust="spacingAndGlyphs" transform="translate(15.6 322.7) rotate(-90) scale(1 0.8)">Internal states</text>
<text x="137.00" y="424.10" font-size="7.4" text-anchor="middle" font-family="'Liberation Sans', Arial, sans-serif" fill="#222" textLength="26.3" lengthAdjust="spacingAndGlyphs">RC units</text>
<text x="130.00" y="450.80" font-size="14" text-anchor="middle" font-family="'Liberation Serif', 'Times New Roman', serif" fill="#111" textLength="14.5" lengthAdjust="spacingAndGlyphs">(<tspan font-weight="bold">c</tspan>)</text>
<line x1="32.40" y1="289.50" x2="32.40" y2="300.20" stroke="#8a8a8a" stroke-width="0.8" stroke-dasharray="0.9,1.3"/>
<line x1="32.40" y1="310.40" x2="32.40" y2="324.60" stroke="#8a8a8a" stroke-width="0.8" stroke-dasharray="0.9,1.3"/>
<line x1="31.50" y1="289.50" x2="33.30" y2="289.50" stroke="#7a7a7a" stroke-width="1.0"/>
<line x1="31.50" y1="324.60" x2="33.30" y2="324.60" stroke="#7a7a7a" stroke-width="1.0"/>
<rect x="30.25" y="300.20" width="4.30" height="10.20" rx="1.10" fill="none" stroke="#a2a2ff" stroke-width="1.0"/>
<line x1="30.65" y1="306.30" x2="34.15" y2="306.30" stroke="#ff8585" stroke-width="1.3"/>
<line x1="46.33" y1="304.30" x2="46.33" y2="310.40" stroke="#8a8a8a" stroke-width="0.8" stroke-dasharray="0.9,1.3"/>
<line x1="46.33" y1="317.60" x2="46.33" y2="325.20" stroke="#8a8a8a" stroke-width="0.8" stroke-dasharray="0.9,1.3"/>
<line x1="45.43" y1="304.30" x2="47.23" y2="304.30" stroke="#7a7a7a" stroke-width="1.0"/>
<line x1="45.43" y1="325.20" x2="47.23" y2="325.20" stroke="#7a7a7a" stroke-width="1.0"/>
<rect x="44.18" y="310.40" width="4.30" height="7.20" rx="1.10" fill="none" stroke="#a2a2ff" stroke-width="1.0"/>
<line x1="44.58" y1="314.40" x2="48.08" y2="314.40" stroke="#ff8585" stroke-width="1.3"/>
<line x1="53.30" y1="276.40" x2="53.30" y2="290.30" stroke="#8a8a8a" stroke-width="0.8" stroke-dasharray="0.9,1.3"/>
<line x1="53.30" y1="305.40" x2="53.30" y2="324.10" stroke="#8a8a8a" stroke-width="0.8" stroke-dasharray="0.9,1.3"/>
<line x1="52.40" y1="276.40" x2="54.20" y2="276.40" stroke="#7a7a7a" stroke-width="1.0"/>
<line x1="52.40" y1="324.10" x2="54.20" y2="324.10" stroke="#7a7a7a" stroke-width="1.0"/>
<rect x="51.15" y="290.30" width="4.30" height="15.10" rx="1.10" fill="none" stroke="#a2a2ff" stroke-width="1.0"/>
<line x1="51.55" y1="298.70" x2="55.05" y2="298.70" stroke="#ff8585" stroke-width="1.3"/>
<line x1="60.26" y1="326.90" x2="60.26" y2="345.90" stroke="#8a8a8a" stroke-width="0.8" stroke-dasharray="0.9,1.3"/>
<line x1="60.26" y1="359.90" x2="60.26" y2="373.70" stroke="#8a8a8a" stroke-width="0.8" stroke-dasharray="0.9,1.3"/>
<line x1="59.36" y1="326.90" x2="61.16" y2="326.90" stroke="#7a7a7a" stroke-width="1.0"/>
<line x1="59.36" y1="373.70" x2="61.16" y2="373.70" stroke="#7a7a7a" stroke-width="1.0"/>
<rect x="58.11" y="345.90" width="4.30" height="14.00" rx="1.10" fill="none" stroke="#a2a2ff" stroke-width="1.0"/>
<line x1="58.51" y1="352.30" x2="62.01" y2="352.30" stroke="#ff8585" stroke-width="1.3"/>
<line x1="67.22" y1="327.30" x2="67.22" y2="349.00" stroke="#8a8a8a" stroke-width="0.8" stroke-dasharray="0.9,1.3"/>
<line x1="67.22" y1="365.00" x2="67.22" y2="380.20" stroke="#8a8a8a" stroke-width="0.8" stroke-dasharray="0.9,1.3"/>
<line x1="66.32" y1="327.30" x2="68.12" y2="327.30" stroke="#7a7a7a" stroke-width="1.0"/>
<line x1="66.32" y1="380.20" x2="68.12" y2="380.20" stroke="#7a7a7a" stroke-width="1.0"/>
<rect x="65.07" y="349.00" width="4.30" height="16.00" rx="1.10" fill="none" stroke="#a2a2ff" stroke-width="1.0"/>
<line x1="65.47" y1="356.00" x2="68.97" y2="356.00" stroke="#ff8585" stroke-width="1.3"/>
<line x1="74.19" y1="319.50" x2="74.19" y2="321.00" stroke="#8a8a8a" stroke-width="0.8" stroke-dasharray="0.9,1.3"/>
<line x1="74.19" y1="323.40" x2="74.19" y2="325.60" stroke="#8a8a8a" stroke-width="0.8" stroke-dasharray="0.9,1.3"/>
<line x1="73.29" y1="319.50" x2="75.09" y2="319.50" stroke="#7a7a7a" stroke-width="1.0"/>
<line x1="73.29" y1="325.60" x2="75.09" y2="325.60" stroke="#7a7a7a" stroke-width="1.0"/>
<rect x="72.04" y="321.00" width="4.30" height="2.40" rx="1.10" fill="none" stroke="#a2a2ff" stroke-width="1.0"/>
<line x1="72.44" y1="322.30" x2="75.94" y2="322.30" stroke="#ff8585" stroke-width="1.3"/>
<line x1="81.16" y1="315.70" x2="81.16" y2="318.50" stroke="#8a8a8a" stroke-width="0.8" stroke-dasharray="0.9,1.3"/>
<line x1="81.16" y1="321.50" x2="81.16" y2="325.20" stroke="#8a8a8a" stroke-width="0.8" stroke-dasharray="0.9,1.3"/>
<line x1="80.25" y1="315.70" x2="82.06" y2="315.70" stroke="#7a7a7a" stroke-width="1.0"/>
<line x1="80.25" y1="325.20" x2="82.06" y2="325.20" stroke="#7a7a7a" stroke-width="1.0"/>
<rect x="79.00" y="318.50" width="4.30" height="3.00" rx="1.10" fill="none" stroke="#a2a2ff" stroke-width="1.0"/>
<line x1="79.41" y1="320.00" x2="82.91" y2="320.00" stroke="#ff8585" stroke-width="1.3"/>
<line x1="88.12" y1="277.30" x2="88.12" y2="291.30" stroke="#8a8a8a" stroke-width="0.8" stroke-dasharray="0.9,1.3"/>
<line x1="88.12" y1="305.40" x2="88.12" y2="324.10" stroke="#8a8a8a" stroke-width="0.8" stroke-dasharray="0.9,1.3"/>
<line x1="87.22" y1="277.30" x2="89.02" y2="277.30" stroke="#7a7a7a" stroke-width="1.0"/>
<line x1="87.22" y1="324.10" x2="89.02" y2="324.10" stroke="#7a7a7a" stroke-width="1.0"/>
<rect x="85.97" y="291.30" width="4.30" height="14.10" rx="1.10" fill="none" stroke="#a2a2ff" stroke-width="1.0"/>
<line x1="86.37" y1="299.30" x2="89.87" y2="299.30" stroke="#ff8585" stroke-width="1.3"/>
<line x1="95.09" y1="327.00" x2="95.09" y2="347.10" stroke="#8a8a8a" stroke-width="0.8" stroke-dasharray="0.9,1.3"/>
<line x1="95.09" y1="361.90" x2="95.09" y2="376.70" stroke="#8a8a8a" stroke-width="0.8" stroke-dasharray="0.9,1.3"/>
<line x1="94.19" y1="327.00" x2="95.99" y2="327.00" stroke="#7a7a7a" stroke-width="1.0"/>
<line x1="94.19" y1="376.70" x2="95.99" y2="376.70" stroke="#7a7a7a" stroke-width="1.0"/>
<rect x="92.94" y="347.10" width="4.30" height="14.80" rx="1.10" fill="none" stroke="#a2a2ff" stroke-width="1.0"/>
<line x1="93.34" y1="353.50" x2="96.84" y2="353.50" stroke="#ff8585" stroke-width="1.3"/>
<line x1="102.05" y1="284.90" x2="102.05" y2="296.20" stroke="#8a8a8a" stroke-width="0.8" stroke-dasharray="0.9,1.3"/>
<line x1="102.05" y1="308.40" x2="102.05" y2="324.10" stroke="#8a8a8a" stroke-width="0.8" stroke-dasharray="0.9,1.3"/>
<line x1="101.15" y1="284.90" x2="102.95" y2="284.90" stroke="#7a7a7a" stroke-width="1.0"/>
<line x1="101.15" y1="324.10" x2="102.95" y2="324.10" stroke="#7a7a7a" stroke-width="1.0"/>
<rect x="99.90" y="296.20" width="4.30" height="12.20" rx="1.10" fill="none" stroke="#a2a2ff" stroke-width="1.0"/>
<line x1="100.30" y1="303.20" x2="103.80" y2="303.20" stroke="#ff8585" stroke-width="1.3"/>
<line x1="109.01" y1="326.10" x2="109.01" y2="327.90" stroke="#8a8a8a" stroke-width="0.8" stroke-dasharray="0.9,1.3"/>
<line x1="109.01" y1="330.70" x2="109.01" y2="333.00" stroke="#8a8a8a" stroke-width="0.8" stroke-dasharray="0.9,1.3"/>
<line x1="108.11" y1="326.10" x2="109.91" y2="326.10" stroke="#7a7a7a" stroke-width="1.0"/>
<line x1="108.11" y1="333.00" x2="109.91" y2="333.00" stroke="#7a7a7a" stroke-width="1.0"/>
<rect x="106.86" y="327.90" width="4.30" height="2.80" rx="1.10" fill="none" stroke="#a2a2ff" stroke-width="1.0"/>
<line x1="107.26" y1="329.50" x2="110.76" y2="329.50" stroke="#ff8585" stroke-width="1.3"/>
<line x1="122.94" y1="288.00" x2="122.94" y2="298.20" stroke="#8a8a8a" stroke-width="0.8" stroke-dasharray="0.9,1.3"/>
<line x1="122.94" y1="309.60" x2="122.94" y2="324.40" stroke="#8a8a8a" stroke-width="0.8" stroke-dasharray="0.9,1.3"/>
<line x1="122.04" y1="288.00" x2="123.84" y2="288.00" stroke="#7a7a7a" stroke-width="1.0"/>
<line x1="122.04" y1="324.40" x2="123.84" y2="324.40" stroke="#7a7a7a" stroke-width="1.0"/>
<rect x="120.79" y="298.20" width="4.30" height="11.40" rx="1.10" fill="none" stroke="#a2a2ff" stroke-width="1.0"/>
<line x1="121.19" y1="304.80" x2="124.69" y2="304.80" stroke="#ff8585" stroke-width="1.3"/>
<line x1="129.91" y1="327.30" x2="129.91" y2="350.00" stroke="#8a8a8a" stroke-width="0.8" stroke-dasharray="0.9,1.3"/>
<line x1="129.91" y1="366.20" x2="129.91" y2="382.30" stroke="#8a8a8a" stroke-width="0.8" stroke-dasharray="0.9,1.3"/>
<line x1="129.01" y1="327.30" x2="130.81" y2="327.30" stroke="#7a7a7a" stroke-width="1.0"/>
<line x1="129.01" y1="382.30" x2="130.81" y2="382.30" stroke="#7a7a7a" stroke-width="1.0"/>
<rect x="127.76" y="350.00" width="4.30" height="16.20" rx="1.10" fill="none" stroke="#a2a2ff" stroke-width="1.0"/>
<line x1="128.16" y1="357.00" x2="131.66" y2="357.00" stroke="#ff8585" stroke-width="1.3"/>
<line x1="136.88" y1="326.60" x2="136.88" y2="336.20" stroke="#8a8a8a" stroke-width="0.8" stroke-dasharray="0.9,1.3"/>
<line x1="136.88" y1="343.20" x2="136.88" y2="351.40" stroke="#8a8a8a" stroke-width="0.8" stroke-dasharray="0.9,1.3"/>
<line x1="135.97" y1="326.60" x2="137.78" y2="326.60" stroke="#7a7a7a" stroke-width="1.0"/>
<line x1="135.97" y1="351.40" x2="137.78" y2="351.40" stroke="#7a7a7a" stroke-width="1.0"/>
<rect x="134.72" y="336.20" width="4.30" height="7.00" rx="1.10" fill="none" stroke="#a2a2ff" stroke-width="1.0"/>
<line x1="135.12" y1="339.20" x2="138.62" y2="339.20" stroke="#ff8585" stroke-width="1.3"/>
<line x1="150.81" y1="309.30" x2="150.81" y2="313.40" stroke="#8a8a8a" stroke-width="0.8" stroke-dasharray="0.9,1.3"/>
<line x1="149.91" y1="309.30" x2="151.71" y2="309.30" stroke="#7a7a7a" stroke-width="1.0"/>
<line x1="149.91" y1="318.50" x2="151.71" y2="318.50" stroke="#7a7a7a" stroke-width="1.0"/>
<rect x="148.66" y="313.40" width="4.30" height="5.10" rx="1.10" fill="none" stroke="#a2a2ff" stroke-width="1.0"/>
<line x1="149.06" y1="316.20" x2="152.56" y2="316.20" stroke="#ff8585" stroke-width="1.3"/>
<line x1="157.77" y1="270.80" x2="157.77" y2="285.20" stroke="#8a8a8a" stroke-width="0.8" stroke-dasharray="0.9,1.3"/>
<line x1="157.77" y1="301.70" x2="157.77" y2="324.00" stroke="#8a8a8a" stroke-width="0.8" stroke-dasharray="0.9,1.3"/>
<line x1="156.87" y1="270.80" x2="158.67" y2="270.80" stroke="#7a7a7a" stroke-width="1.0"/>
<line x1="156.87" y1="324.00" x2="158.67" y2="324.00" stroke="#7a7a7a" stroke-width="1.0"/>
<rect x="155.62" y="285.20" width="4.30" height="16.50" rx="1.10" fill="none" stroke="#a2a2ff" stroke-width="1.0"/>
<line x1="156.02" y1="294.40" x2="159.52" y2="294.40" stroke="#ff8585" stroke-width="1.3"/>
<line x1="164.74" y1="327.30" x2="164.74" y2="357.00" stroke="#8a8a8a" stroke-width="0.8" stroke-dasharray="0.9,1.3"/>
<line x1="164.74" y1="377.20" x2="164.74" y2="396.70" stroke="#8a8a8a" stroke-width="0.8" stroke-dasharray="0.9,1.3"/>
<line x1="163.84" y1="327.30" x2="165.64" y2="327.30" stroke="#7a7a7a" stroke-width="1.0"/>
<line x1="163.84" y1="396.70" x2="165.64" y2="396.70" stroke="#7a7a7a" stroke-width="1.0"/>
<rect x="162.59" y="357.00" width="4.30" height="20.20" rx="1.10" fill="none" stroke="#a2a2ff" stroke-width="1.0"/>
<line x1="162.99" y1="365.70" x2="166.49" y2="365.70" stroke="#ff8585" stroke-width="1.3"/>
<line x1="171.70" y1="326.20" x2="171.70" y2="328.20" stroke="#8a8a8a" stroke-width="0.8" stroke-dasharray="0.9,1.3"/>
<line x1="170.80" y1="326.20" x2="172.60" y2="326.20" stroke="#7a7a7a" stroke-width="1.0"/>
<line x1="170.80" y1="332.00" x2="172.60" y2="332.00" stroke="#7a7a7a" stroke-width="1.0"/>
<rect x="169.55" y="328.20" width="4.30" height="2.60" rx="1.10" fill="none" stroke="#a2a2ff" stroke-width="1.0"/>
<line x1="169.95" y1="329.50" x2="173.45" y2="329.50" stroke="#ff8585" stroke-width="1.3"/>
<line x1="178.66" y1="302.40" x2="178.66" y2="309.10" stroke="#8a8a8a" stroke-width="0.8" stroke-dasharray="0.9,1.3"/>
<line x1="178.66" y1="316.30" x2="178.66" y2="325.20" stroke="#8a8a8a" stroke-width="0.8" stroke-dasharray="0.9,1.3"/>
<line x1="177.76" y1="302.40" x2="179.56" y2="302.40" stroke="#7a7a7a" stroke-width="1.0"/>
<line x1="177.76" y1="325.20" x2="179.56" y2="325.20" stroke="#7a7a7a" stroke-width="1.0"/>
<rect x="176.51" y="309.10" width="4.30" height="7.20" rx="1.10" fill="none" stroke="#a2a2ff" stroke-width="1.0"/>
<line x1="176.91" y1="313.20" x2="180.41" y2="313.20" stroke="#ff8585" stroke-width="1.3"/>
<line x1="185.63" y1="248.40" x2="185.63" y2="269.80" stroke="#8a8a8a" stroke-width="0.8" stroke-dasharray="0.9,1.3"/>
<line x1="185.63" y1="292.20" x2="185.63" y2="323.20" stroke="#8a8a8a" stroke-width="0.8" stroke-dasharray="0.9,1.3"/>
<line x1="184.73" y1="248.40" x2="186.53" y2="248.40" stroke="#7a7a7a" stroke-width="1.0"/>
<line x1="184.73" y1="323.20" x2="186.53" y2="323.20" stroke="#7a7a7a" stroke-width="1.0"/>
<rect x="183.48" y="269.80" width="4.30" height="22.40" rx="1.10" fill="none" stroke="#a2a2ff" stroke-width="1.0"/>
<line x1="183.88" y1="282.30" x2="187.38" y2="282.30" stroke="#ff8585" stroke-width="1.3"/>
<line x1="192.59" y1="279.30" x2="192.59" y2="292.30" stroke="#8a8a8a" stroke-width="0.8" stroke-dasharray="0.9,1.3"/>
<line x1="192.59" y1="306.00" x2="192.59" y2="324.30" stroke="#8a8a8a" stroke-width="0.8" stroke-dasharray="0.9,1.3"/>
<line x1="191.69" y1="279.30" x2="193.50" y2="279.30" stroke="#7a7a7a" stroke-width="1.0"/>
<line x1="191.69" y1="324.30" x2="193.50" y2="324.30" stroke="#7a7a7a" stroke-width="1.0"/>
<rect x="190.44" y="292.30" width="4.30" height="13.70" rx="1.10" fill="none" stroke="#a2a2ff" stroke-width="1.0"/>
<line x1="190.84" y1="300.20" x2="194.34" y2="300.20" stroke="#ff8585" stroke-width="1.3"/>
<line x1="199.56" y1="319.40" x2="199.56" y2="320.90" stroke="#8a8a8a" stroke-width="0.8" stroke-dasharray="0.9,1.3"/>
<line x1="198.66" y1="319.40" x2="200.46" y2="319.40" stroke="#7a7a7a" stroke-width="1.0"/>
<line x1="198.66" y1="324.20" x2="200.46" y2="324.20" stroke="#7a7a7a" stroke-width="1.0"/>
<rect x="197.41" y="320.90" width="4.30" height="2.30" rx="1.10" fill="none" stroke="#a2a2ff" stroke-width="1.0"/>
<line x1="197.81" y1="322.00" x2="201.31" y2="322.00" stroke="#ff8585" stroke-width="1.3"/>
<line x1="206.53" y1="296.20" x2="206.53" y2="304.90" stroke="#8a8a8a" stroke-width="0.8" stroke-dasharray="0.9,1.3"/>
<line x1="206.53" y1="313.50" x2="206.53" y2="325.00" stroke="#8a8a8a" stroke-width="0.8" stroke-dasharray="0.9,1.3"/>
<line x1="205.62" y1="296.20" x2="207.43" y2="296.20" stroke="#7a7a7a" stroke-width="1.0"/>
<line x1="205.62" y1="325.00" x2="207.43" y2="325.00" stroke="#7a7a7a" stroke-width="1.0"/>
<rect x="204.38" y="304.90" width="4.30" height="8.60" rx="1.10" fill="none" stroke="#a2a2ff" stroke-width="1.0"/>
<line x1="204.78" y1="309.80" x2="208.28" y2="309.80" stroke="#ff8585" stroke-width="1.3"/>
<line x1="213.49" y1="326.30" x2="213.49" y2="335.30" stroke="#8a8a8a" stroke-width="0.8" stroke-dasharray="0.9,1.3"/>
<line x1="213.49" y1="342.20" x2="213.49" y2="348.30" stroke="#8a8a8a" stroke-width="0.8" stroke-dasharray="0.9,1.3"/>
<line x1="212.59" y1="326.30" x2="214.39" y2="326.30" stroke="#7a7a7a" stroke-width="1.0"/>
<line x1="212.59" y1="348.30" x2="214.39" y2="348.30" stroke="#7a7a7a" stroke-width="1.0"/>
<rect x="211.34" y="335.30" width="4.30" height="6.90" rx="1.10" fill="none" stroke="#a2a2ff" stroke-width="1.0"/>
<line x1="211.74" y1="338.40" x2="215.24" y2="338.40" stroke="#ff8585" stroke-width="1.3"/>
<line x1="220.46" y1="257.30" x2="220.46" y2="276.40" stroke="#8a8a8a" stroke-width="0.8" stroke-dasharray="0.9,1.3"/>
<line x1="220.46" y1="295.60" x2="220.46" y2="323.90" stroke="#8a8a8a" stroke-width="0.8" stroke-dasharray="0.9,1.3"/>
<line x1="219.56" y1="257.30" x2="221.36" y2="257.30" stroke="#7a7a7a" stroke-width="1.0"/>
<line x1="219.56" y1="323.90" x2="221.36" y2="323.90" stroke="#7a7a7a" stroke-width="1.0"/>
<rect x="218.31" y="276.40" width="4.30" height="19.20" rx="1.10" fill="none" stroke="#a2a2ff" stroke-width="1.0"/>
<line x1="218.71" y1="287.40" x2="222.21" y2="287.40" stroke="#ff8585" stroke-width="1.3"/>
<line x1="227.42" y1="326.90" x2="227.42" y2="341.50" stroke="#8a8a8a" stroke-width="0.8" stroke-dasharray="0.9,1.3"/>
<line x1="227.42" y1="352.70" x2="227.42" y2="363.60" stroke="#8a8a8a" stroke-width="0.8" stroke-dasharray="0.9,1.3"/>
<line x1="226.52" y1="326.90" x2="228.32" y2="326.90" stroke="#7a7a7a" stroke-width="1.0"/>
<line x1="226.52" y1="363.60" x2="228.32" y2="363.60" stroke="#7a7a7a" stroke-width="1.0"/>
<rect x="225.27" y="341.50" width="4.30" height="11.20" rx="1.10" fill="none" stroke="#a2a2ff" stroke-width="1.0"/>
<line x1="225.67" y1="346.50" x2="229.17" y2="346.50" stroke="#ff8585" stroke-width="1.3"/>
<line x1="234.38" y1="326.60" x2="234.38" y2="339.50" stroke="#8a8a8a" stroke-width="0.8" stroke-dasharray="0.9,1.3"/>
<line x1="234.38" y1="349.30" x2="234.38" y2="358.20" stroke="#8a8a8a" stroke-width="0.8" stroke-dasharray="0.9,1.3"/>
<line x1="233.48" y1="326.60" x2="235.28" y2="326.60" stroke="#7a7a7a" stroke-width="1.0"/>
<line x1="233.48" y1="358.20" x2="235.28" y2="358.20" stroke="#7a7a7a" stroke-width="1.0"/>
<rect x="232.23" y="339.50" width="4.30" height="9.80" rx="1.10" fill="none" stroke="#a2a2ff" stroke-width="1.0"/>
<line x1="232.63" y1="343.90" x2="236.13" y2="343.90" stroke="#ff8585" stroke-width="1.3"/>
<line x1="241.35" y1="248.30" x2="241.35" y2="271.40" stroke="#8a8a8a" stroke-width="0.8" stroke-dasharray="0.9,1.3"/>
<line x1="241.35" y1="293.30" x2="241.35" y2="323.90" stroke="#8a8a8a" stroke-width="0.8" stroke-dasharray="0.9,1.3"/>
<line x1="240.45" y1="248.30" x2="242.25" y2="248.30" stroke="#7a7a7a" stroke-width="1.0"/>
<line x1="240.45" y1="323.90" x2="242.25" y2="323.90" stroke="#7a7a7a" stroke-width="1.0"/>
<rect x="239.20" y="271.40" width="4.30" height="21.90" rx="1.10" fill="none" stroke="#a2a2ff" stroke-width="1.0"/>
<line x1="239.60" y1="283.60" x2="243.10" y2="283.60" stroke="#ff8585" stroke-width="1.3"/>
<ellipse cx="39.36" cy="326.20" rx="1.9" ry="0.9" fill="#e0202a"/>
<ellipse cx="115.98" cy="324.80" rx="1.9" ry="0.9" fill="#e0202a"/>
<ellipse cx="143.84" cy="325.60" rx="1.9" ry="0.9" fill="#e0202a"/>
<ellipse cx="150.81" cy="325.20" rx="1.1" ry="0.7" fill="#ff5050"/>
<ellipse cx="199.56" cy="325.50" rx="1.1" ry="0.7" fill="#ff5050"/>
<line x1="311.80" y1="245.60" x2="311.80" y2="397.80" stroke="#c6c6c6" stroke-width="1.4"/>
<line x1="311.80" y1="397.80" x2="527.50" y2="397.80" stroke="#c6c6c6" stroke-width="1.4"/>
<line x1="311.80" y1="245.90" x2="314.00" y2="245.90" stroke="#c6c6c6" stroke-width="1.4"/>
<text x="308.00" y="250.30" font-size="10" text-anchor="end" font-family="'Liberation Sans', Arial, sans-serif" fill="#2a2a2a">2</text>
<line x1="311.80" y1="284.10" x2="314.00" y2="284.10" stroke="#c6c6c6" stroke-width="1.4"/>
<text x="308.00" y="288.50" font-size="10" text-anchor="end" font-family="'Liberation Sans', Arial, sans-serif" fill="#2a2a2a">1</text>
<line x1="311.80" y1="322.30" x2="314.00" y2="322.30" stroke="#c6c6c6" stroke-width="1.4"/>
<text x="308.00" y="326.70" font-size="10" text-anchor="end" font-family="'Liberation Sans', Arial, sans-serif" fill="#2a2a2a">0</text>
<line x1="311.80" y1="360.50" x2="314.00" y2="360.50" stroke="#c6c6c6" stroke-width="1.4"/>
<text x="308.00" y="364.90" font-size="10" text-anchor="end" font-family="'Liberation Sans', Arial, sans-serif" fill="#2a2a2a">-1</text>
<line x1="311.80" y1="398.70" x2="314.00" y2="398.70" stroke="#c6c6c6" stroke-width="1.4"/>
<text x="308.00" y="403.10" font-size="10" text-anchor="end" font-family="'Liberation Sans', Arial, sans-serif" fill="#2a2a2a">-2</text>
<line x1="311.80" y1="397.80" x2="311.80" y2="395.60" stroke="#c6c6c6" stroke-width="1.4"/>
<text x="311.30" y="412.00" font-size="9.3" text-anchor="middle" font-family="'Liberation Serif', 'Times New Roman', serif" fill="#333">0</text>
<line x1="354.94" y1="397.80" x2="354.94" y2="395.60" stroke="#c6c6c6" stroke-width="1.4"/>
<text x="352.20" y="412.00" font-size="9.3" text-anchor="middle" font-family="'Liberation Serif', 'Times New Roman', serif" fill="#333">2,000</text>
<line x1="398.08" y1="397.80" x2="398.08" y2="395.60" stroke="#c6c6c6" stroke-width="1.4"/>
<text x="395.00" y="412.00" font-size="9.3" text-anchor="middle" font-family="'Liberation Serif', 'Times New Roman', serif" fill="#333">4,000</text>
<line x1="441.22" y1="397.80" x2="441.22" y2="395.60" stroke="#c6c6c6" stroke-width="1.4"/>
<text x="440.00" y="412.00" font-size="9.3" text-anchor="middle" font-family="'Liberation Serif', 'Times New Roman', serif" fill="#333">6,000</text>
<line x1="484.36" y1="397.80" x2="484.36" y2="395.60" stroke="#c6c6c6" stroke-width="1.4"/>
<text x="485.10" y="412.00" font-size="9.3" text-anchor="middle" font-family="'Liberation Serif', 'Times New Roman', serif" fill="#333">8,000</text>
<line x1="527.50" y1="397.80" x2="527.50" y2="395.60" stroke="#c6c6c6" stroke-width="1.4"/>
<text x="529.00" y="412.00" font-size="9.3" text-anchor="middle" font-family="'Liberation Serif', 'Times New Roman', serif" fill="#333">10,000</text>
<text x="309.60" y="244.00" font-size="7.4" text-anchor="start" font-family="'Liberation Sans', Arial, sans-serif" fill="#111" font-weight="bold" textLength="219.0" lengthAdjust="spacingAndGlyphs">teacher/test sequence (red) vs predicted sequence (blue)</text>
<text x="419.40" y="424.40" font-size="12" text-anchor="middle" font-family="'Liberation Serif', 'Times New Roman', serif" fill="#2a2a2a">t</text>
<text x="296.60" y="322.00" font-size="10" text-anchor="middle" font-family="'Liberation Sans', Arial, sans-serif" fill="#222" textLength="51.3" lengthAdjust="spacingAndGlyphs" transform="rotate(-90 296.60 322.00)">Time series</text>
<text x="412.80" y="451.00" font-size="14" text-anchor="middle" font-family="'Liberation Serif', 'Times New Roman', serif" fill="#111" textLength="17.3" lengthAdjust="spacingAndGlyphs">(<tspan font-weight="bold">d</tspan>)</text>
<path d="M312.35,306.20 C312.60,304.98 313.35,301.38 313.85,298.90 C314.35,296.42 314.77,293.85 315.35,291.30 C315.93,288.75 316.77,285.60 317.35,283.60 C317.93,281.60 318.42,280.18 318.85,279.30 C319.28,278.42 319.57,278.22 319.95,278.30 C320.33,278.38 320.72,278.40 321.15,279.80 C321.58,281.20 322.12,283.52 322.55,286.70 C322.98,289.88 323.30,294.32 323.75,298.90 C324.20,303.48 324.80,309.62 325.25,314.20 C325.70,318.78 326.05,322.05 326.45,326.40 C326.85,330.75 327.25,335.32 327.65,340.30 C328.05,345.28 328.47,351.03 328.85,356.30 C329.23,361.57 329.62,367.30 329.95,371.90 C330.28,376.50 330.55,380.52 330.85,383.90 C331.15,387.28 331.45,392.20 331.75,392.20 C332.05,392.20 332.37,387.12 332.65,383.90 C332.93,380.68 333.13,376.83 333.45,372.90 C333.77,368.97 334.13,364.07 334.55,360.30 C334.97,356.53 335.48,353.47 335.95,350.30 C336.42,347.13 336.80,344.13 337.35,341.30 C337.90,338.47 338.57,335.67 339.25,333.30 C339.93,330.93 340.60,328.77 341.45,327.10 C342.30,325.43 343.42,324.03 344.35,323.30 C345.28,322.57 346.12,322.65 347.05,322.70 C347.98,322.75 349.07,323.13 349.95,323.60 C350.83,324.07 351.62,324.47 352.35,325.50 C353.08,326.53 353.77,328.33 354.35,329.80 C354.93,331.27 355.33,332.38 355.85,334.30 C356.37,336.22 357.02,339.13 357.45,341.30 C357.88,343.47 358.12,344.97 358.45,347.30 C358.78,349.63 359.15,352.47 359.45,355.30 C359.75,358.13 359.98,361.03 360.25,364.30 C360.52,367.57 360.78,371.47 361.05,374.90 C361.32,378.33 361.57,381.53 361.85,384.90 C362.13,388.27 362.45,394.65 362.75,395.10 C363.05,395.55 363.35,390.80 363.65,387.60 C363.95,384.40 364.25,380.12 364.55,375.90 C364.85,371.68 365.17,366.57 365.45,362.30 C365.73,358.03 365.95,354.97 366.25,350.30 C366.55,345.63 366.95,339.30 367.25,334.30 C367.55,329.30 367.78,324.13 368.05,320.30 C368.32,316.47 368.57,314.30 368.85,311.30 C369.13,308.30 369.47,305.20 369.75,302.30 C370.03,299.40 370.18,297.33 370.55,293.90 C370.92,290.47 371.57,284.63 371.95,281.70 C372.33,278.77 372.55,277.58 372.85,276.30 C373.15,275.02 373.45,274.17 373.75,274.00 C374.05,273.83 374.32,274.50 374.65,275.30 C374.98,276.10 375.27,276.28 375.75,278.80 C376.23,281.32 376.90,286.72 377.55,290.40 C378.20,294.08 378.87,297.98 379.65,300.90 C380.43,303.82 381.45,306.25 382.25,307.90 C383.05,309.55 383.72,310.23 384.45,310.80 C385.18,311.37 385.92,311.32 386.65,311.30 C387.38,311.28 388.13,311.13 388.85,310.70 C389.57,310.27 390.02,310.33 390.95,308.70 C391.88,307.07 393.43,303.95 394.45,300.90 C395.47,297.85 396.27,293.53 397.05,290.40 C397.83,287.27 398.63,283.98 399.15,282.10 C399.67,280.22 399.85,279.73 400.15,279.10 C400.45,278.47 400.65,278.27 400.95,278.30 C401.25,278.33 401.58,278.58 401.95,279.30 C402.32,280.02 402.78,281.10 403.15,282.60 C403.52,284.10 403.85,286.12 404.15,288.30 C404.45,290.48 404.68,293.20 404.95,295.70 C405.22,298.20 405.47,300.40 405.75,303.30 C406.03,306.20 406.37,309.93 406.65,313.10 C406.93,316.27 407.18,319.27 407.45,322.30 C407.72,325.33 407.98,328.30 408.25,331.30 C408.52,334.30 408.75,336.32 409.05,340.30 C409.35,344.28 409.77,350.87 410.05,355.20 C410.33,359.53 410.53,362.52 410.75,366.30 C410.97,370.08 411.15,374.35 411.35,377.90 C411.55,381.45 411.77,385.07 411.95,387.60 C412.13,390.13 412.27,392.93 412.45,393.10 C412.63,393.27 412.82,390.80 413.05,388.60 C413.28,386.40 413.57,383.45 413.85,379.90 C414.13,376.35 414.43,371.42 414.75,367.30 C415.07,363.18 415.42,358.87 415.75,355.20 C416.08,351.53 416.40,348.22 416.75,345.30 C417.10,342.38 417.45,339.87 417.85,337.70 C418.25,335.53 418.70,333.75 419.15,332.30 C419.60,330.85 420.03,329.80 420.55,329.00 C421.07,328.20 421.68,327.82 422.25,327.50 C422.82,327.18 423.38,327.08 423.95,327.10 C424.52,327.12 425.07,327.28 425.65,327.60 C426.23,327.92 426.57,327.32 427.45,329.00 C428.33,330.68 430.07,335.32 430.95,337.70 C431.83,340.08 432.17,341.25 432.75,343.30 C433.33,345.35 433.93,347.92 434.45,350.00 C434.97,352.08 435.42,353.77 435.85,355.80 C436.28,357.83 436.68,360.20 437.05,362.20 C437.42,364.20 437.75,366.10 438.05,367.80 C438.35,369.50 438.58,371.98 438.85,372.40 C439.12,372.82 439.38,371.32 439.65,370.30 C439.92,369.28 440.18,368.13 440.45,366.30 C440.72,364.47 440.93,362.60 441.25,359.30 C441.57,356.00 442.02,350.33 442.35,346.50 C442.68,342.67 442.97,339.22 443.25,336.30 C443.53,333.38 443.78,331.50 444.05,329.00 C444.32,326.50 444.58,324.08 444.85,321.30 C445.12,318.52 445.37,315.37 445.65,312.30 C445.93,309.23 446.25,306.40 446.55,302.90 C446.85,299.40 447.17,295.08 447.45,291.30 C447.73,287.52 447.97,283.70 448.25,280.20 C448.53,276.70 448.85,273.22 449.15,270.30 C449.45,267.38 449.78,264.87 450.05,262.70 C450.32,260.53 450.55,258.53 450.75,257.30 C450.95,256.07 451.07,255.22 451.25,255.30 C451.43,255.38 451.62,255.98 451.85,257.80 C452.08,259.62 452.40,263.28 452.65,266.20 C452.90,269.12 453.12,272.10 453.35,275.30 C453.58,278.50 453.83,282.40 454.05,285.40 C454.27,288.40 454.45,290.78 454.65,293.30 C454.85,295.82 455.00,298.28 455.25,300.50 C455.50,302.72 455.85,304.83 456.15,306.60 C456.45,308.37 456.70,309.68 457.05,311.10 C457.40,312.52 457.82,313.90 458.25,315.10 C458.68,316.30 459.12,317.32 459.65,318.30 C460.18,319.28 460.87,320.27 461.45,321.00 C462.03,321.73 462.55,322.15 463.15,322.70 C463.75,323.25 464.42,323.72 465.05,324.30 C465.68,324.88 466.37,325.48 466.95,326.20 C467.53,326.92 468.05,327.75 468.55,328.60 C469.05,329.45 469.52,330.32 469.95,331.30 C470.38,332.28 470.80,333.33 471.15,334.50 C471.50,335.67 471.77,336.85 472.05,338.30 C472.33,339.75 472.57,341.45 472.85,343.20 C473.13,344.95 473.45,346.77 473.75,348.80 C474.05,350.83 474.35,353.23 474.65,355.40 C474.95,357.57 475.27,359.73 475.55,361.80 C475.83,363.87 476.07,365.53 476.35,367.80 C476.63,370.07 476.97,373.22 477.25,375.40 C477.53,377.58 477.80,380.65 478.05,380.90 C478.30,381.15 478.52,378.67 478.75,376.90 C478.98,375.13 479.23,372.73 479.45,370.30 C479.67,367.87 479.83,365.13 480.05,362.30 C480.27,359.47 480.55,355.80 480.75,353.30 C480.95,350.80 481.07,349.63 481.25,347.30 C481.43,344.97 481.65,341.88 481.85,339.30 C482.05,336.72 482.23,334.55 482.45,331.80 C482.67,329.05 482.93,325.55 483.15,322.80 C483.37,320.05 483.45,318.55 483.75,315.30 C484.05,312.05 484.62,306.63 484.95,303.30 C485.28,299.97 485.47,297.98 485.75,295.30 C486.03,292.62 486.35,290.03 486.65,287.20 C486.95,284.37 487.25,280.92 487.55,278.30 C487.85,275.68 488.18,273.42 488.45,271.50 C488.72,269.58 488.92,267.87 489.15,266.80 C489.38,265.73 489.62,265.10 489.85,265.10 C490.08,265.10 490.27,265.60 490.55,266.80 C490.83,268.00 491.28,270.38 491.55,272.30 C491.82,274.22 491.95,276.12 492.15,278.30 C492.35,280.48 492.50,282.82 492.75,285.40 C493.00,287.98 493.35,291.27 493.65,293.80 C493.95,296.33 494.22,298.60 494.55,300.60 C494.88,302.60 495.27,304.27 495.65,305.80 C496.03,307.33 496.45,308.67 496.85,309.80 C497.25,310.93 497.63,311.80 498.05,312.60 C498.47,313.40 498.88,314.12 499.35,314.60 C499.82,315.08 500.35,315.32 500.85,315.50 C501.35,315.68 501.85,315.75 502.35,315.70 C502.85,315.65 503.37,315.48 503.85,315.20 C504.33,314.92 504.80,314.60 505.25,314.00 C505.70,313.40 506.12,312.62 506.55,311.60 C506.98,310.58 507.40,309.30 507.85,307.90 C508.30,306.50 508.80,304.95 509.25,303.20 C509.70,301.45 510.12,299.50 510.55,297.40 C510.98,295.30 511.42,292.93 511.85,290.60 C512.28,288.27 512.75,285.55 513.15,283.40 C513.55,281.25 513.90,279.22 514.25,277.70 C514.60,276.18 514.95,275.15 515.25,274.30 C515.55,273.45 515.82,272.97 516.05,272.60 C516.28,272.23 516.43,272.05 516.65,272.10 C516.87,272.15 517.12,272.43 517.35,272.90 C517.58,273.37 517.82,273.90 518.05,274.90 C518.28,275.90 518.55,277.25 518.75,278.90 C518.95,280.55 519.07,282.48 519.25,284.80 C519.43,287.12 519.65,289.83 519.85,292.80 C520.05,295.77 520.23,299.48 520.45,302.60 C520.67,305.72 520.92,308.58 521.15,311.50 C521.38,314.42 521.60,317.22 521.85,320.10 C522.10,322.98 522.37,325.87 522.65,328.80 C522.93,331.73 523.28,334.75 523.55,337.70 C523.82,340.65 524.02,343.58 524.25,346.50 C524.48,349.42 524.72,352.30 524.95,355.20 C525.18,358.10 525.43,360.90 525.65,363.90 C525.87,366.90 526.03,370.45 526.25,373.20 C526.47,375.95 526.72,377.95 526.95,380.40 C527.18,382.85 527.53,386.65 527.65,387.90" fill="none" stroke="#ff1010" stroke-width="1.9" stroke-linejoin="round" stroke-linecap="round"/>
<path d="M311.90,305.90 C312.15,304.68 312.90,301.08 313.40,298.60 C313.90,296.12 314.32,293.55 314.90,291.00 C315.48,288.45 316.32,285.30 316.90,283.30 C317.48,281.30 317.97,279.88 318.40,279.00 C318.83,278.12 319.12,277.92 319.50,278.00 C319.88,278.08 320.27,278.10 320.70,279.50 C321.13,280.90 321.67,283.22 322.10,286.40 C322.53,289.58 322.85,294.02 323.30,298.60 C323.75,303.18 324.35,309.32 324.80,313.90 C325.25,318.48 325.60,321.75 326.00,326.10 C326.40,330.45 326.80,335.02 327.20,340.00 C327.60,344.98 328.02,350.83 328.40,356.00 C328.78,361.17 329.17,366.50 329.50,371.00 C329.83,375.50 330.10,379.73 330.40,383.00 C330.70,386.27 331.00,390.60 331.30,390.60 C331.60,390.60 331.92,386.10 332.20,383.00 C332.48,379.90 332.68,375.83 333.00,372.00 C333.32,368.17 333.68,363.67 334.10,360.00 C334.52,356.33 335.03,353.17 335.50,350.00 C335.97,346.83 336.35,343.83 336.90,341.00 C337.45,338.17 338.12,335.37 338.80,333.00 C339.48,330.63 340.15,328.47 341.00,326.80 C341.85,325.13 342.97,323.73 343.90,323.00 C344.83,322.27 345.67,322.35 346.60,322.40 C347.53,322.45 348.62,322.83 349.50,323.30 C350.38,323.77 351.17,324.17 351.90,325.20 C352.63,326.23 353.32,328.03 353.90,329.50 C354.48,330.97 354.88,332.08 355.40,334.00 C355.92,335.92 356.57,338.83 357.00,341.00 C357.43,343.17 357.67,344.67 358.00,347.00 C358.33,349.33 358.70,352.17 359.00,355.00 C359.30,357.83 359.53,360.83 359.80,364.00 C360.07,367.17 360.33,370.67 360.60,374.00 C360.87,377.33 361.12,380.75 361.40,384.00 C361.68,387.25 362.00,393.17 362.30,393.50 C362.60,393.83 362.90,389.08 363.20,386.00 C363.50,382.92 363.80,379.00 364.10,375.00 C364.40,371.00 364.72,366.17 365.00,362.00 C365.28,357.83 365.50,354.67 365.80,350.00 C366.10,345.33 366.50,339.00 366.80,334.00 C367.10,329.00 367.33,323.83 367.60,320.00 C367.87,316.17 368.12,314.00 368.40,311.00 C368.68,308.00 369.02,304.90 369.30,302.00 C369.58,299.10 369.73,297.03 370.10,293.60 C370.47,290.17 371.12,284.33 371.50,281.40 C371.88,278.47 372.10,277.28 372.40,276.00 C372.70,274.72 373.00,273.87 373.30,273.70 C373.60,273.53 373.87,274.20 374.20,275.00 C374.53,275.80 374.82,275.98 375.30,278.50 C375.78,281.02 376.45,286.42 377.10,290.10 C377.75,293.78 378.42,297.68 379.20,300.60 C379.98,303.52 381.00,305.95 381.80,307.60 C382.60,309.25 383.27,309.93 384.00,310.50 C384.73,311.07 385.47,311.02 386.20,311.00 C386.93,310.98 387.68,310.83 388.40,310.40 C389.12,309.97 389.57,310.03 390.50,308.40 C391.43,306.77 392.98,303.65 394.00,300.60 C395.02,297.55 395.82,293.23 396.60,290.10 C397.38,286.97 398.18,283.68 398.70,281.80 C399.22,279.92 399.40,279.43 399.70,278.80 C400.00,278.17 400.20,277.97 400.50,278.00 C400.80,278.03 401.13,278.28 401.50,279.00 C401.87,279.72 402.33,280.80 402.70,282.30 C403.07,283.80 403.40,285.82 403.70,288.00 C404.00,290.18 404.23,292.90 404.50,295.40 C404.77,297.90 405.02,300.10 405.30,303.00 C405.58,305.90 405.92,309.63 406.20,312.80 C406.48,315.97 406.73,318.97 407.00,322.00 C407.27,325.03 407.53,328.00 407.80,331.00 C408.07,334.00 408.30,336.02 408.60,340.00 C408.90,343.98 409.32,350.57 409.60,354.90 C409.88,359.23 410.08,362.32 410.30,366.00 C410.52,369.68 410.70,373.67 410.90,377.00 C411.10,380.33 411.32,383.58 411.50,386.00 C411.68,388.42 411.82,391.33 412.00,391.50 C412.18,391.67 412.37,389.08 412.60,387.00 C412.83,384.92 413.12,382.33 413.40,379.00 C413.68,375.67 413.98,371.02 414.30,367.00 C414.62,362.98 414.97,358.57 415.30,354.90 C415.63,351.23 415.95,347.92 416.30,345.00 C416.65,342.08 417.00,339.57 417.40,337.40 C417.80,335.23 418.25,333.45 418.70,332.00 C419.15,330.55 419.58,329.50 420.10,328.70 C420.62,327.90 421.23,327.52 421.80,327.20 C422.37,326.88 422.93,326.78 423.50,326.80 C424.07,326.82 424.62,326.98 425.20,327.30 C425.78,327.62 426.12,327.02 427.00,328.70 C427.88,330.38 429.62,335.02 430.50,337.40 C431.38,339.78 431.72,340.95 432.30,343.00 C432.88,345.05 433.48,347.62 434.00,349.70 C434.52,351.78 434.97,353.47 435.40,355.50 C435.83,357.53 436.23,359.90 436.60,361.90 C436.97,363.90 437.30,365.90 437.60,367.50 C437.90,369.10 438.13,371.08 438.40,371.50 C438.67,371.92 438.93,370.92 439.20,370.00 C439.47,369.08 439.73,367.83 440.00,366.00 C440.27,364.17 440.48,362.30 440.80,359.00 C441.12,355.70 441.57,350.03 441.90,346.20 C442.23,342.37 442.52,338.92 442.80,336.00 C443.08,333.08 443.33,331.20 443.60,328.70 C443.87,326.20 444.13,323.78 444.40,321.00 C444.67,318.22 444.92,315.07 445.20,312.00 C445.48,308.93 445.80,306.10 446.10,302.60 C446.40,299.10 446.72,294.78 447.00,291.00 C447.28,287.22 447.52,283.40 447.80,279.90 C448.08,276.40 448.40,272.92 448.70,270.00 C449.00,267.08 449.33,264.57 449.60,262.40 C449.87,260.23 450.10,258.23 450.30,257.00 C450.50,255.77 450.62,254.92 450.80,255.00 C450.98,255.08 451.17,255.68 451.40,257.50 C451.63,259.32 451.95,262.98 452.20,265.90 C452.45,268.82 452.67,271.80 452.90,275.00 C453.13,278.20 453.38,282.10 453.60,285.10 C453.82,288.10 454.00,290.48 454.20,293.00 C454.40,295.52 454.55,297.98 454.80,300.20 C455.05,302.42 455.40,304.53 455.70,306.30 C456.00,308.07 456.25,309.38 456.60,310.80 C456.95,312.22 457.37,313.60 457.80,314.80 C458.23,316.00 458.67,317.02 459.20,318.00 C459.73,318.98 460.42,319.97 461.00,320.70 C461.58,321.43 462.10,321.85 462.70,322.40 C463.30,322.95 463.97,323.42 464.60,324.00 C465.23,324.58 465.92,325.18 466.50,325.90 C467.08,326.62 467.60,327.45 468.10,328.30 C468.60,329.15 469.07,330.02 469.50,331.00 C469.93,331.98 470.35,333.03 470.70,334.20 C471.05,335.37 471.32,336.55 471.60,338.00 C471.88,339.45 472.12,341.15 472.40,342.90 C472.68,344.65 473.00,346.47 473.30,348.50 C473.60,350.53 473.90,352.93 474.20,355.10 C474.50,357.27 474.82,359.43 475.10,361.50 C475.38,363.57 475.62,365.33 475.90,367.50 C476.18,369.67 476.52,372.42 476.80,374.50 C477.08,376.58 477.35,379.75 477.60,380.00 C477.85,380.25 478.07,377.67 478.30,376.00 C478.53,374.33 478.78,372.33 479.00,370.00 C479.22,367.67 479.38,364.83 479.60,362.00 C479.82,359.17 480.10,355.50 480.30,353.00 C480.50,350.50 480.62,349.33 480.80,347.00 C480.98,344.67 481.20,341.58 481.40,339.00 C481.60,336.42 481.78,334.25 482.00,331.50 C482.22,328.75 482.48,325.25 482.70,322.50 C482.92,319.75 483.00,318.25 483.30,315.00 C483.60,311.75 484.17,306.33 484.50,303.00 C484.83,299.67 485.02,297.68 485.30,295.00 C485.58,292.32 485.90,289.73 486.20,286.90 C486.50,284.07 486.80,280.62 487.10,278.00 C487.40,275.38 487.73,273.12 488.00,271.20 C488.27,269.28 488.47,267.57 488.70,266.50 C488.93,265.43 489.17,264.80 489.40,264.80 C489.63,264.80 489.82,265.30 490.10,266.50 C490.38,267.70 490.83,270.08 491.10,272.00 C491.37,273.92 491.50,275.82 491.70,278.00 C491.90,280.18 492.05,282.52 492.30,285.10 C492.55,287.68 492.90,290.97 493.20,293.50 C493.50,296.03 493.77,298.30 494.10,300.30 C494.43,302.30 494.82,303.97 495.20,305.50 C495.58,307.03 496.00,308.37 496.40,309.50 C496.80,310.63 497.18,311.50 497.60,312.30 C498.02,313.10 498.43,313.82 498.90,314.30 C499.37,314.78 499.90,315.02 500.40,315.20 C500.90,315.38 501.40,315.45 501.90,315.40 C502.40,315.35 502.92,315.18 503.40,314.90 C503.88,314.62 504.35,314.30 504.80,313.70 C505.25,313.10 505.67,312.32 506.10,311.30 C506.53,310.28 506.95,309.00 507.40,307.60 C507.85,306.20 508.35,304.65 508.80,302.90 C509.25,301.15 509.67,299.20 510.10,297.10 C510.53,295.00 510.97,292.63 511.40,290.30 C511.83,287.97 512.30,285.25 512.70,283.10 C513.10,280.95 513.45,278.92 513.80,277.40 C514.15,275.88 514.50,274.85 514.80,274.00 C515.10,273.15 515.37,272.67 515.60,272.30 C515.83,271.93 515.98,271.75 516.20,271.80 C516.42,271.85 516.67,272.13 516.90,272.60 C517.13,273.07 517.37,273.60 517.60,274.60 C517.83,275.60 518.10,276.95 518.30,278.60 C518.50,280.25 518.62,282.18 518.80,284.50 C518.98,286.82 519.20,289.53 519.40,292.50 C519.60,295.47 519.78,299.18 520.00,302.30 C520.22,305.42 520.47,308.28 520.70,311.20 C520.93,314.12 521.15,316.92 521.40,319.80 C521.65,322.68 521.92,325.57 522.20,328.50 C522.48,331.43 522.83,334.45 523.10,337.40 C523.37,340.35 523.57,343.28 523.80,346.20 C524.03,349.12 524.27,352.00 524.50,354.90 C524.73,357.80 524.98,360.70 525.20,363.60 C525.42,366.50 525.58,369.65 525.80,372.30 C526.02,374.95 526.27,377.17 526.50,379.50 C526.73,381.83 527.08,385.17 527.20,386.30" fill="none" stroke="#1a5cae" stroke-width="1.8" stroke-linejoin="round" stroke-linecap="round"/>
</svg></body></html>
